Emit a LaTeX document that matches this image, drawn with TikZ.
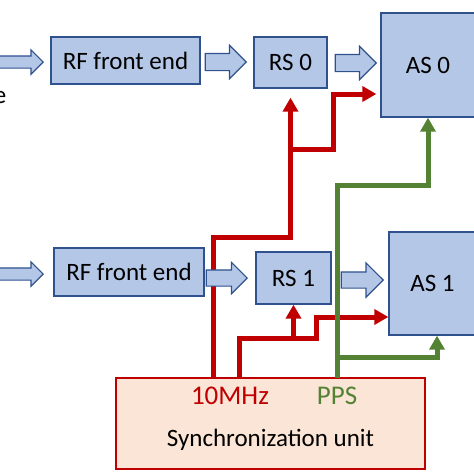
\documentclass[tikz,border=0pt]{standalone}
\usepackage{fontspec}
\setmainfont{Carlito}
\usetikzlibrary{arrows.meta,shapes.arrows,positioning}
\definecolor{boxfill}{HTML}{B4C7E7}
\definecolor{boxline}{HTML}{2F528F}
\definecolor{syncred}{HTML}{C00000}
\definecolor{syncfill}{HTML}{FBE5D6}
\definecolor{ppsgreen}{HTML}{548235}
\tikzset{
  txt/.style       = {font=\fontsize{25}{30}\selectfont, inner sep=0pt},
  sig/.style       = {font=\fontsize{27}{32}\selectfont, inner sep=0pt},
  block/.style     = {txt, draw=boxline, fill=boxfill, line width=1.3pt},
  syncbox/.style   = {draw=syncred, fill=syncfill, line width=1.3pt},
  inarrow/.style   = {single arrow, draw=boxline, fill=boxfill, line width=1.2pt,
                      inner xsep=0pt, inner ysep=5.5pt, single arrow head extend=6pt,
                      minimum height=52pt, anchor=tip},
  fatarrow/.style  = {inarrow, inner ysep=8pt, single arrow head extend=8pt,
                      minimum height=41pt},
  redline/.style   = {draw=syncred, line width=5pt, -{Triangle[width=15pt,length=14pt]}},
  greenline/.style = {redline, draw=ppsgreen}
}

\begin{document}
\begin{tikzpicture}[x=1pt,y=-1pt]
\useasboundingbox (0,0) rectangle (474,474);
\clip (0,0) rectangle (474,474);

% boxes
\node[block, minimum width=149pt, minimum height=47pt] (rf0) at (125.5,60.5) {RF front end};
\node[block, minimum width=73pt, minimum height=51pt] (rs0) at (290.5,62.5) {RS 0};
\node[block, minimum width=94pt, minimum height=104pt] (as0) at (428,65) {AS 0};
\node[block, minimum width=150pt, minimum height=48pt] (rf1) at (129,272) {RF front end};
\node[block, minimum width=75pt, minimum height=52pt] (rs1) at (293.5,278) {RS 1};
\node[block, minimum width=87pt, minimum height=103pt] (as1) at (432.5,283.5) {AS 1};
\node[txt, anchor=east] (e) at (6.5,98) {e};

\node[syncbox, minimum width=309pt, minimum height=91pt] (sync) at (270.5,423.5) {};
\node[sig, text=syncred] (mhz) at (230,396) {10MHz};
\node[sig, text=ppsgreen] (pps) at (337,396) {PPS};
\node[txt] (sname) at (270.5,440) {Synchronization unit};

% 10MHz lines
\coordinate (m0) at (213,378);
\coordinate (j0) at (290.5,237);
\coordinate (b0) at (290.5,149);
\coordinate (k0) at (333,94);
\draw[redline, shorten >=9pt] (m0) |- (j0) -- (rs0.south);
\draw[redline, shorten >=4pt] (b0) -| (k0) -- (k0 -| as0.west);

\coordinate (m1) at (239,378);
\coordinate (j1) at (316,338);
\coordinate (k1) at (316,317);
\draw[redline] (m1) |- (j1) -- (k1) -- (k1 -| as1.west);
\draw[redline] (rs1.south |- j1) -- (rs1.south);

% PPS lines
\coordinate (p) at (337,378);
\coordinate (g0) at (428,185);
\coordinate (g1) at (337,357);
\coordinate (h1) at (437,357);
\draw[greenline] (p) |- (g0) -- (as0.south);
\draw[greenline] (g1) -- (h1) -- (h1 |- as1.south);

% block arrows
\node[inarrow] (in0) at (44,62) {};
\node[fatarrow] (a0) at (247,62) {};
\node[fatarrow] (c0) at (377,63) {};
\node[inarrow] (in1) at (44,274) {};
\node[fatarrow, inner ysep=7.5pt, single arrow head extend=7.5pt] (a1) at (248,278) {};
\node[fatarrow, inner ysep=7.5pt, single arrow head extend=9pt, minimum height=42pt] (c1) at (384,280) {};
\end{tikzpicture}
\end{document}
